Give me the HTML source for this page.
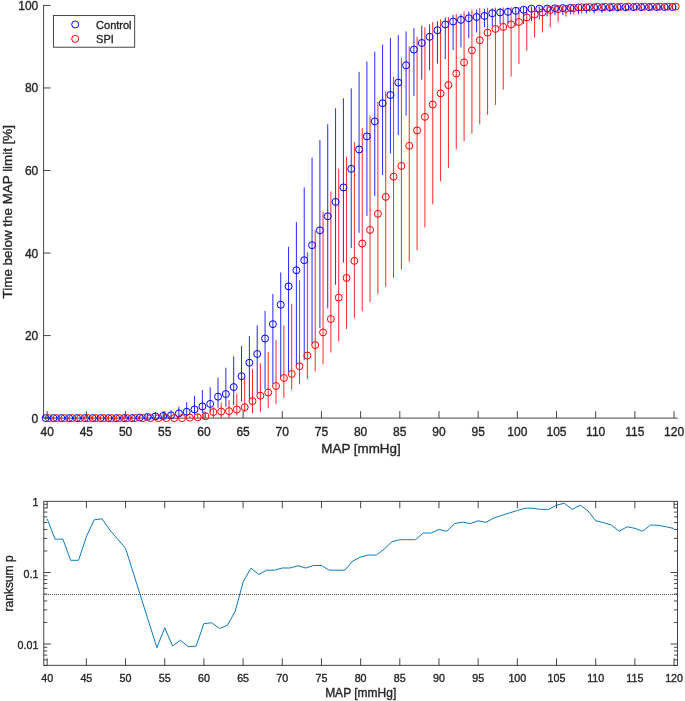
<!DOCTYPE html>
<html><head><meta charset="utf-8"><title>MAP figure</title>
<style>html,body{margin:0;padding:0;background:#fff;width:685px;height:701px;overflow:hidden}svg text{stroke:#262626;stroke-width:.35px}</style>
</head><body>
<svg width="685" height="701" viewBox="0 0 685 701" style="display:block;position:absolute;left:0;top:0" font-family="'Liberation Sans',Arial,sans-serif" fill="#262626">
<rect width="685" height="701" fill="#fff"/>
<g stroke="#262626" stroke-width="0.85" fill="none">
<path d="M43.6 5 V418.1 H677.8"/>
<path d="M47.20 418.1 v-7M86.38 418.1 v-7M125.56 418.1 v-7M164.73 418.1 v-7M203.91 418.1 v-7M243.09 418.1 v-7M282.27 418.1 v-7M321.45 418.1 v-7M360.62 418.1 v-7M399.80 418.1 v-7M438.98 418.1 v-7M478.16 418.1 v-7M517.34 418.1 v-7M556.51 418.1 v-7M595.69 418.1 v-7M634.87 418.1 v-7M674.05 418.1 v-7M43.6 418.10 h7M43.6 335.57 h7M43.6 253.03 h7M43.6 170.50 h7M43.6 87.96 h7M43.6 5.43 h7"/>
</g>
<g font-size="12.0" text-anchor="middle">
<text x="47.20" y="435.6">40</text>
<text x="86.38" y="435.6">45</text>
<text x="125.56" y="435.6">50</text>
<text x="164.73" y="435.6">55</text>
<text x="203.91" y="435.6">60</text>
<text x="243.09" y="435.6">65</text>
<text x="282.27" y="435.6">70</text>
<text x="321.45" y="435.6">75</text>
<text x="360.62" y="435.6">80</text>
<text x="399.80" y="435.6">85</text>
<text x="438.98" y="435.6">90</text>
<text x="478.16" y="435.6">95</text>
<text x="517.34" y="435.6">100</text>
<text x="556.51" y="435.6">105</text>
<text x="595.69" y="435.6">110</text>
<text x="634.87" y="435.6">115</text>
<text x="674.05" y="435.6">120</text>
</g>
<g font-size="12.0" text-anchor="end">
<text x="38.3" y="422.60">0</text>
<text x="38.3" y="340.07">20</text>
<text x="38.3" y="257.53">40</text>
<text x="38.3" y="175.00">60</text>
<text x="38.3" y="92.46">80</text>
<text x="38.3" y="9.93">100</text>
</g>
<text x="361" y="453.4" font-size="13.4" text-anchor="middle">MAP [mmHg]</text>
<text transform="translate(12.1 211.7) rotate(-90)" font-size="13.4" text-anchor="middle">Time below the MAP limit [%]</text>
<path d="M131.84 416.45V418.10M139.68 415.62V418.10M147.51 413.97V418.10M155.35 412.08V418.10M163.18 411.08V418.10M171.02 410.09V418.10M178.86 406.79V416.86M186.69 402.21V416.04M194.53 395.82V414.80M202.36 390.04V413.15M210.20 387.15V411.50M218.03 377.66V407.78M225.87 367.75V406.96M233.70 356.41V405.10M241.54 345.88V401.59M249.38 335.98V399.12M257.21 325.25V393.75M265.05 310.81V389.34M272.88 293.89V384.26M280.72 272.43V377.25M288.55 246.84V371.88M296.39 222.08V365.69M304.22 187.42V360.33M312.06 157.71V343.82M319.90 139.96V328.14M327.73 124.28V308.33M335.57 108.31V284.81M343.40 98.28V262.73M351.24 88.38V248.08M359.07 71.87V232.81M366.91 61.55V215.89M374.75 51.65V196.08M382.58 44.63V175.04M390.42 38.03V153.58M398.25 35.14V135.01M406.09 31.43V115.61M413.92 28.13V96.01M421.76 25.65V79.71M429.59 24.41V70.22M437.43 21.11V63.62M445.27 17.40V59.08M453.10 14.92V50.00M460.94 14.10V47.32M468.77 11.41V38.20M476.61 9.56V32.42M484.44 8.73V27.30M492.28 8.32V26.06M500.11 7.91V24.00M507.95 7.49V23.59M515.79 7.08V26.48M523.62 6.83V24.00M531.46 6.59V21.11M539.29 6.34V19.46M547.13 6.09V16.57M554.96 5.84V15.33M562.80 5.82V14.92M570.64 5.79V14.51M578.47 5.76V14.30M586.31 5.73V13.48M594.14 5.71V13.48M601.98 5.68V12.86M609.81 5.65V12.03M617.65 5.62V11.62M625.48 5.60V11.21M633.32 5.57V10.93M641.16 5.54V10.66M648.99 5.51V10.38M656.83 5.49V10.11M664.66 5.46V9.83M672.50 5.43V9.56" stroke="#0000ff" stroke-width="0.85" fill="none"/>
<path d="M189.84 416.04V418.10M197.68 413.97V418.10M205.51 411.91V418.10M213.35 407.21V418.10M221.18 402.46V418.10M229.02 399.94V418.10M236.85 393.75V415.62M244.69 377.25V412.12M252.53 369.20V413.15M260.36 363.21V411.91M268.20 352.07V408.20M276.03 340.11V404.07M283.87 325.25V397.88M291.70 303.79V389.63M299.54 280.27V384.26M307.37 252.21V378.90M315.21 230.34V371.47M323.05 211.77V364.04M330.88 191.54V352.49M338.72 168.85V341.34M346.55 156.88V328.96M354.39 142.02V318.23M362.22 127.99V311.22M370.06 115.61V302.14M377.90 101.99V293.89M385.73 91.47V286.87M393.57 76.82V277.96M401.40 57.84V269.54M409.24 46.41V261.70M417.07 36.79V250.14M424.91 27.30V227.45M432.74 21.94V204.34M440.58 19.46V181.23M448.42 16.98V168.02M456.25 14.10V149.58M464.09 11.41V141.40M471.92 9.56V133.77M479.76 7.91V124.28M487.59 7.74V114.79M495.43 7.58V104.88M503.26 7.41V89.61M511.10 7.25V76.57M518.94 7.08V64.03M526.77 6.83V50.82M534.61 6.59V37.62M542.44 6.34V32.42M550.28 6.09V27.30M558.11 5.84V21.94M565.95 5.82V16.57M573.79 5.79V14.51M581.62 5.76V13.48M589.46 5.73V11.62M597.29 5.71V10.79M605.13 5.68V10.67M612.96 5.65V10.55M620.80 5.62V10.42M628.63 5.60V10.30M636.47 5.57V10.18M644.31 5.54V10.05M652.14 5.51V9.93M659.98 5.49V9.80M667.81 5.46V9.68M675.65 5.43V9.56" stroke="#ff0000" stroke-width="0.85" fill="none"/>
<g fill="none" stroke="#0000ff" stroke-width="1.0">
<circle cx="45.65" cy="418.10" r="3.5"/>
<circle cx="53.49" cy="418.10" r="3.5"/>
<circle cx="61.32" cy="418.10" r="3.5"/>
<circle cx="69.16" cy="418.10" r="3.5"/>
<circle cx="76.99" cy="418.10" r="3.5"/>
<circle cx="84.83" cy="418.10" r="3.5"/>
<circle cx="92.66" cy="418.10" r="3.5"/>
<circle cx="100.50" cy="418.10" r="3.5"/>
<circle cx="108.33" cy="418.10" r="3.5"/>
<circle cx="116.17" cy="418.10" r="3.5"/>
<circle cx="124.01" cy="418.10" r="3.5"/>
<circle cx="131.84" cy="418.10" r="3.5"/>
<circle cx="139.68" cy="417.60" r="3.5"/>
<circle cx="147.51" cy="416.90" r="3.5"/>
<circle cx="155.35" cy="416.41" r="3.5"/>
<circle cx="163.18" cy="416.00" r="3.5"/>
<circle cx="171.02" cy="415.34" r="3.5"/>
<circle cx="178.86" cy="413.35" r="3.5"/>
<circle cx="186.69" cy="411.79" r="3.5"/>
<circle cx="194.53" cy="409.43" r="3.5"/>
<circle cx="202.36" cy="406.42" r="3.5"/>
<circle cx="210.20" cy="403.90" r="3.5"/>
<circle cx="218.03" cy="396.68" r="3.5"/>
<circle cx="225.87" cy="394.04" r="3.5"/>
<circle cx="233.70" cy="387.07" r="3.5"/>
<circle cx="241.54" cy="376.21" r="3.5"/>
<circle cx="249.38" cy="362.72" r="3.5"/>
<circle cx="257.21" cy="353.97" r="3.5"/>
<circle cx="265.05" cy="338.54" r="3.5"/>
<circle cx="272.88" cy="324.18" r="3.5"/>
<circle cx="280.72" cy="304.74" r="3.5"/>
<circle cx="288.55" cy="286.33" r="3.5"/>
<circle cx="296.39" cy="270.24" r="3.5"/>
<circle cx="304.22" cy="260.25" r="3.5"/>
<circle cx="312.06" cy="245.19" r="3.5"/>
<circle cx="319.90" cy="230.34" r="3.5"/>
<circle cx="327.73" cy="216.30" r="3.5"/>
<circle cx="335.57" cy="201.86" r="3.5"/>
<circle cx="343.40" cy="187.42" r="3.5"/>
<circle cx="351.24" cy="168.85" r="3.5"/>
<circle cx="359.07" cy="149.45" r="3.5"/>
<circle cx="366.91" cy="136.41" r="3.5"/>
<circle cx="374.75" cy="121.39" r="3.5"/>
<circle cx="382.58" cy="103.23" r="3.5"/>
<circle cx="390.42" cy="94.98" r="3.5"/>
<circle cx="398.25" cy="82.60" r="3.5"/>
<circle cx="406.09" cy="65.27" r="3.5"/>
<circle cx="413.92" cy="49.59" r="3.5"/>
<circle cx="421.76" cy="42.98" r="3.5"/>
<circle cx="429.59" cy="36.79" r="3.5"/>
<circle cx="437.43" cy="30.19" r="3.5"/>
<circle cx="445.27" cy="24.41" r="3.5"/>
<circle cx="453.10" cy="21.52" r="3.5"/>
<circle cx="460.94" cy="19.87" r="3.5"/>
<circle cx="468.77" cy="18.22" r="3.5"/>
<circle cx="476.61" cy="16.98" r="3.5"/>
<circle cx="484.44" cy="15.95" r="3.5"/>
<circle cx="492.28" cy="13.27" r="3.5"/>
<circle cx="500.11" cy="12.45" r="3.5"/>
<circle cx="507.95" cy="11.83" r="3.5"/>
<circle cx="515.79" cy="10.79" r="3.5"/>
<circle cx="523.62" cy="9.72" r="3.5"/>
<circle cx="531.46" cy="8.73" r="3.5"/>
<circle cx="539.29" cy="8.73" r="3.5"/>
<circle cx="547.13" cy="8.53" r="3.5"/>
<circle cx="554.96" cy="8.32" r="3.5"/>
<circle cx="562.80" cy="8.11" r="3.5"/>
<circle cx="570.64" cy="7.91" r="3.5"/>
<circle cx="578.47" cy="7.49" r="3.5"/>
<circle cx="586.31" cy="7.44" r="3.5"/>
<circle cx="594.14" cy="7.38" r="3.5"/>
<circle cx="601.98" cy="7.33" r="3.5"/>
<circle cx="609.81" cy="7.27" r="3.5"/>
<circle cx="617.65" cy="7.22" r="3.5"/>
<circle cx="625.48" cy="7.16" r="3.5"/>
<circle cx="633.32" cy="7.14" r="3.5"/>
<circle cx="641.16" cy="7.11" r="3.5"/>
<circle cx="648.99" cy="7.08" r="3.5"/>
<circle cx="656.83" cy="7.05" r="3.5"/>
<circle cx="664.66" cy="7.03" r="3.5"/>
<circle cx="672.50" cy="7.00" r="3.5"/>
</g>
<g fill="none" stroke="#ff0000" stroke-width="1.0">
<circle cx="48.80" cy="418.10" r="3.5"/>
<circle cx="56.64" cy="418.10" r="3.5"/>
<circle cx="64.47" cy="418.10" r="3.5"/>
<circle cx="72.31" cy="418.10" r="3.5"/>
<circle cx="80.14" cy="418.10" r="3.5"/>
<circle cx="87.98" cy="418.10" r="3.5"/>
<circle cx="95.81" cy="418.10" r="3.5"/>
<circle cx="103.65" cy="418.10" r="3.5"/>
<circle cx="111.48" cy="418.10" r="3.5"/>
<circle cx="119.32" cy="418.10" r="3.5"/>
<circle cx="127.16" cy="418.10" r="3.5"/>
<circle cx="134.99" cy="418.10" r="3.5"/>
<circle cx="142.83" cy="418.10" r="3.5"/>
<circle cx="150.66" cy="418.10" r="3.5"/>
<circle cx="158.50" cy="418.10" r="3.5"/>
<circle cx="166.33" cy="418.10" r="3.5"/>
<circle cx="174.17" cy="418.10" r="3.5"/>
<circle cx="182.01" cy="418.10" r="3.5"/>
<circle cx="189.84" cy="417.69" r="3.5"/>
<circle cx="197.68" cy="417.27" r="3.5"/>
<circle cx="205.51" cy="416.24" r="3.5"/>
<circle cx="213.35" cy="412.08" r="3.5"/>
<circle cx="221.18" cy="411.54" r="3.5"/>
<circle cx="229.02" cy="411.13" r="3.5"/>
<circle cx="236.85" cy="409.52" r="3.5"/>
<circle cx="244.69" cy="407.21" r="3.5"/>
<circle cx="252.53" cy="401.10" r="3.5"/>
<circle cx="260.36" cy="395.65" r="3.5"/>
<circle cx="268.20" cy="392.51" r="3.5"/>
<circle cx="276.03" cy="386.04" r="3.5"/>
<circle cx="283.87" cy="377.95" r="3.5"/>
<circle cx="291.70" cy="373.94" r="3.5"/>
<circle cx="299.54" cy="366.23" r="3.5"/>
<circle cx="307.37" cy="355.54" r="3.5"/>
<circle cx="315.21" cy="345.06" r="3.5"/>
<circle cx="323.05" cy="332.39" r="3.5"/>
<circle cx="330.88" cy="319.06" r="3.5"/>
<circle cx="338.72" cy="297.60" r="3.5"/>
<circle cx="346.55" cy="277.96" r="3.5"/>
<circle cx="354.39" cy="260.87" r="3.5"/>
<circle cx="362.22" cy="243.54" r="3.5"/>
<circle cx="370.06" cy="229.92" r="3.5"/>
<circle cx="377.90" cy="213.83" r="3.5"/>
<circle cx="385.73" cy="196.91" r="3.5"/>
<circle cx="393.57" cy="176.69" r="3.5"/>
<circle cx="401.40" cy="165.96" r="3.5"/>
<circle cx="409.24" cy="145.74" r="3.5"/>
<circle cx="417.07" cy="130.47" r="3.5"/>
<circle cx="424.91" cy="116.85" r="3.5"/>
<circle cx="432.74" cy="104.59" r="3.5"/>
<circle cx="440.58" cy="93.33" r="3.5"/>
<circle cx="448.42" cy="85.08" r="3.5"/>
<circle cx="456.25" cy="73.52" r="3.5"/>
<circle cx="464.09" cy="62.38" r="3.5"/>
<circle cx="471.92" cy="50.41" r="3.5"/>
<circle cx="479.76" cy="40.30" r="3.5"/>
<circle cx="487.59" cy="32.67" r="3.5"/>
<circle cx="495.43" cy="28.95" r="3.5"/>
<circle cx="503.26" cy="26.89" r="3.5"/>
<circle cx="511.10" cy="24.41" r="3.5"/>
<circle cx="518.94" cy="21.94" r="3.5"/>
<circle cx="526.77" cy="17.40" r="3.5"/>
<circle cx="534.61" cy="14.51" r="3.5"/>
<circle cx="542.44" cy="12.45" r="3.5"/>
<circle cx="550.28" cy="9.97" r="3.5"/>
<circle cx="558.11" cy="9.14" r="3.5"/>
<circle cx="565.95" cy="8.73" r="3.5"/>
<circle cx="573.79" cy="8.11" r="3.5"/>
<circle cx="581.62" cy="7.29" r="3.5"/>
<circle cx="589.46" cy="7.02" r="3.5"/>
<circle cx="597.29" cy="6.75" r="3.5"/>
<circle cx="605.13" cy="6.73" r="3.5"/>
<circle cx="612.96" cy="6.72" r="3.5"/>
<circle cx="620.80" cy="6.70" r="3.5"/>
<circle cx="628.63" cy="6.68" r="3.5"/>
<circle cx="636.47" cy="6.67" r="3.5"/>
<circle cx="644.31" cy="6.65" r="3.5"/>
<circle cx="652.14" cy="6.63" r="3.5"/>
<circle cx="659.98" cy="6.62" r="3.5"/>
<circle cx="667.81" cy="6.60" r="3.5"/>
<circle cx="675.65" cy="6.59" r="3.5"/>
</g>
<rect x="53.4" y="15.6" width="81.3" height="31.6" fill="#fff" stroke="#262626" stroke-width="0.85"/>
<circle cx="75.2" cy="24.45" r="3.5" fill="none" stroke="#0000ff" stroke-width="1.0"/>
<circle cx="75.2" cy="38.9" r="3.5" fill="none" stroke="#ff0000" stroke-width="1.0"/>
<text x="96.1" y="28.8" font-size="11">Control</text>
<text x="96.1" y="43.3" font-size="11">SPI</text>
<g stroke="#262626" stroke-width="0.85" fill="none">
<rect x="43.8" y="501.3" width="633.7" height="163.99999999999994"/>
<path d="M47.20 665.3 v-7M47.20 501.3 v7M86.38 665.3 v-7M86.38 501.3 v7M125.56 665.3 v-7M125.56 501.3 v7M164.73 665.3 v-7M164.73 501.3 v7M203.91 665.3 v-7M203.91 501.3 v7M243.09 665.3 v-7M243.09 501.3 v7M282.27 665.3 v-7M282.27 501.3 v7M321.45 665.3 v-7M321.45 501.3 v7M360.62 665.3 v-7M360.62 501.3 v7M399.80 665.3 v-7M399.80 501.3 v7M438.98 665.3 v-7M438.98 501.3 v7M478.16 665.3 v-7M478.16 501.3 v7M517.34 665.3 v-7M517.34 501.3 v7M556.51 665.3 v-7M556.51 501.3 v7M595.69 665.3 v-7M595.69 501.3 v7M634.87 665.3 v-7M634.87 501.3 v7M674.05 665.3 v-7M674.05 501.3 v7M43.8 572.50 h7M677.5 572.50 h-7M43.8 644.00 h7M677.5 644.00 h-7M43.8 550.98 h3.5M677.5 550.98 h-3.5M43.8 538.39 h3.5M677.5 538.39 h-3.5M43.8 529.45 h3.5M677.5 529.45 h-3.5M43.8 522.52 h3.5M677.5 522.52 h-3.5M43.8 516.86 h3.5M677.5 516.86 h-3.5M43.8 512.08 h3.5M677.5 512.08 h-3.5M43.8 507.93 h3.5M677.5 507.93 h-3.5M43.8 504.27 h3.5M677.5 504.27 h-3.5M43.8 622.48 h3.5M677.5 622.48 h-3.5M43.8 609.89 h3.5M677.5 609.89 h-3.5M43.8 600.95 h3.5M677.5 600.95 h-3.5M43.8 594.02 h3.5M677.5 594.02 h-3.5M43.8 588.36 h3.5M677.5 588.36 h-3.5M43.8 583.58 h3.5M677.5 583.58 h-3.5M43.8 579.43 h3.5M677.5 579.43 h-3.5M43.8 575.77 h3.5M677.5 575.77 h-3.5M43.8 665.52 h3.5M677.5 665.52 h-3.5M43.8 659.86 h3.5M677.5 659.86 h-3.5M43.8 655.08 h3.5M677.5 655.08 h-3.5M43.8 650.93 h3.5M677.5 650.93 h-3.5M43.8 647.27 h3.5M677.5 647.27 h-3.5"/>
</g>
<path d="M44 594.5 H677.5" stroke="#505050" stroke-width="1" stroke-dasharray="1 1" fill="none"/>
<polyline points="47.20,518.80 55.04,539.20 62.87,539.20 70.71,560.30 78.54,560.30 86.38,536.70 94.21,519.80 102.05,518.80 109.88,530.00 117.72,539.20 125.56,548.40 133.39,573.20 141.23,598.00 149.06,622.80 156.90,647.65 164.73,627.80 172.57,645.90 180.41,640.20 188.24,646.70 196.08,646.20 203.91,623.60 211.75,622.80 219.58,628.50 227.42,625.30 235.25,611.20 243.09,582.10 250.93,568.20 258.76,574.40 266.60,570.20 274.43,570.20 282.27,568.00 290.10,568.00 297.94,565.75 305.77,568.00 313.61,565.50 321.45,565.50 329.28,570.20 337.12,570.20 344.95,570.20 352.79,561.00 360.62,557.00 368.46,555.00 376.30,555.10 384.13,549.10 391.97,541.70 399.80,539.70 407.64,539.70 415.47,539.70 423.31,533.00 431.14,533.00 438.98,529.50 446.82,531.25 454.65,523.60 462.49,522.10 470.32,523.60 478.16,520.80 485.99,522.30 493.83,518.10 501.66,515.40 509.50,512.90 517.34,510.50 525.17,508.20 533.01,508.20 540.84,509.40 548.68,509.40 556.51,505.20 564.35,503.20 572.19,509.40 580.02,505.20 587.86,510.65 595.69,520.80 603.53,522.60 611.36,525.00 619.20,531.25 627.03,526.80 634.87,528.30 642.71,531.25 650.54,525.00 658.38,525.30 666.21,526.80 674.05,528.50" fill="none" stroke="#0072bd" stroke-width="0.95" stroke-linejoin="round"/>
<g font-size="10.7" text-anchor="middle">
<text x="47.20" y="681.5">40</text>
<text x="86.38" y="681.5">45</text>
<text x="125.56" y="681.5">50</text>
<text x="164.73" y="681.5">55</text>
<text x="203.91" y="681.5">60</text>
<text x="243.09" y="681.5">65</text>
<text x="282.27" y="681.5">70</text>
<text x="321.45" y="681.5">75</text>
<text x="360.62" y="681.5">80</text>
<text x="399.80" y="681.5">85</text>
<text x="438.98" y="681.5">90</text>
<text x="478.16" y="681.5">95</text>
<text x="517.34" y="681.5">100</text>
<text x="556.51" y="681.5">105</text>
<text x="595.69" y="681.5">110</text>
<text x="634.87" y="681.5">115</text>
<text x="674.05" y="681.5">120</text>
</g>
<g font-size="10.7" text-anchor="end">
<text x="38.4" y="505.90">1</text>
<text x="38.4" y="577.80">0.1</text>
<text x="38.4" y="649.30">0.01</text>
</g>
<text x="360.7" y="697.1" font-size="12" text-anchor="middle">MAP [mmHg]</text>
<text transform="translate(12.9 583.4) rotate(-90)" font-size="12" text-anchor="middle">ranksum p</text>
</svg>
</body></html>
